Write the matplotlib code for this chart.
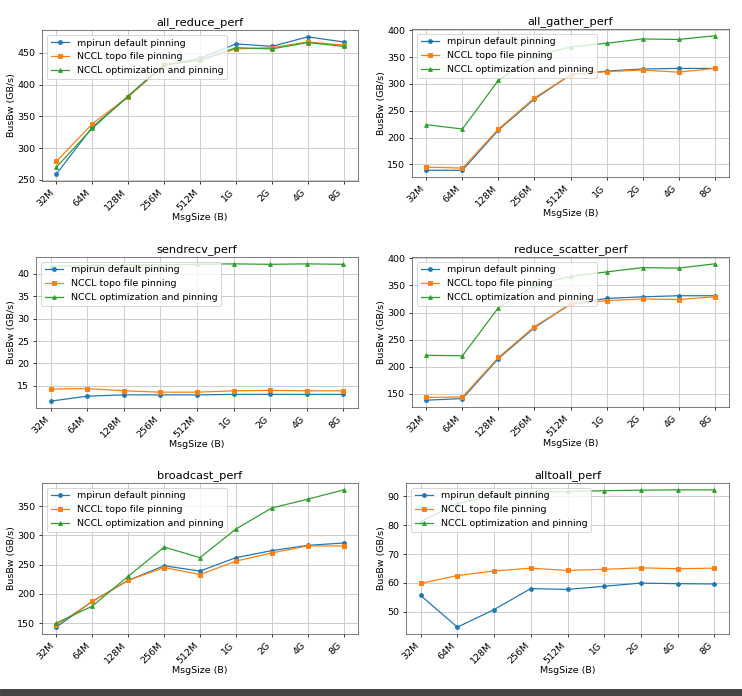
#!/usr/bin/env python3

"""
NCCL busbw comparison: six collectives, three pinning setups.
"""

import matplotlib
matplotlib.use('Agg')
import matplotlib.pyplot as plt
from matplotlib.patches import Rectangle

msg_sizes = ['32M', '64M', '128M', '256M', '512M', '1G', '2G', '4G', '8G']
series_names = ['mpirun default pinning',
                'NCCL topo file pinning',
                'NCCL optimization and pinning']

# BusBw (GB/s) per test, in order: mpirun, topo file, optimization
all_reduce_mpirun = [259, 333, 381, 430, 441, 464, 460, 475, 467]
all_reduce_topo = [279, 338, 381, 431, 438, 456, 458, 467, 462]
all_reduce_opt = [270, 331, 382, 432, 438, 458, 456, 466, 460]

all_gather_mpirun = [139, 139, 214, 272, 317, 324, 328, 329, 329]
all_gather_topo = [145, 143, 216, 274, 317, 323, 326, 322, 329]
all_gather_opt = [224, 216, 307, 352, 369, 376, 384, 383, 390]

sendrecv_mpirun = [11.6, 12.7, 13.0, 13.0, 13.0, 13.1, 13.1, 13.1, 13.1]
sendrecv_topo = [14.3, 14.4, 13.9, 13.6, 13.6, 13.9, 14.0, 13.9, 13.9]
sendrecv_opt = [41.7, 41.8, 42.0, 42.0, 42.1, 42.2, 42.1, 42.2, 42.1]

reduce_scatter_mpirun = [138, 141, 215, 272, 316, 326, 329, 331, 331]
reduce_scatter_topo = [143, 144, 217, 274, 315, 322, 325, 324, 329]
reduce_scatter_opt = [221, 220, 309, 350, 367, 375, 383, 382, 390]

broadcast_mpirun = [143, 187, 223, 248, 239, 262, 274, 283, 287]
broadcast_topo = [146, 187, 223, 245, 233, 256, 270, 282, 282]
broadcast_opt = [150, 179, 230, 280, 262, 311, 347, 362, 378]

alltoall_mpirun = [55.6, 44.6, 50.7, 58.0, 57.7, 58.8, 59.9, 59.7, 59.6]
alltoall_topo = [59.8, 62.5, 64.1, 65.1, 64.3, 64.7, 65.2, 64.9, 65.1]
alltoall_opt = [81.3, 87.5, 90.5, 91.4, 91.8, 92.0, 92.2, 92.3, 92.3]

tests = [
    ('all_reduce_perf', all_reduce_mpirun, all_reduce_topo, all_reduce_opt),
    ('all_gather_perf', all_gather_mpirun, all_gather_topo, all_gather_opt),
    ('sendrecv_perf', sendrecv_mpirun, sendrecv_topo, sendrecv_opt),
    ('reduce_scatter_perf', reduce_scatter_mpirun, reduce_scatter_topo,
     reduce_scatter_opt),
    ('broadcast_perf', broadcast_mpirun, broadcast_topo, broadcast_opt),
    ('alltoall_perf', alltoall_mpirun, alltoall_topo, alltoall_opt),
]

markers = ['o', 's', '^']
colors = ['#1f77b4', '#ff7f0e', '#2ca02c']

W, H = 742, 696
# each panel was a separate image, so the axes boxes do not line up exactly
# (left, top, right, bottom) in pixels
panel_boxes = [
    (42, 30, 358, 181), (412, 29, 729, 177),
    (36, 257, 358, 408), (412, 257, 729, 407),
    (42, 483, 358, 634), (406, 483, 729, 634),
]


def main():
    fig = plt.figure(figsize=(W / 68, H / 68), dpi=68)

    for box, (title, *values) in zip(panel_boxes, tests):
        l, t, r, b = box
        ax = fig.add_axes([l / W, 1 - b / H, (r - l) / W, (b - t) / H])
        for name, vals, mk, c in zip(series_names, values, markers, colors):
            ax.plot(msg_sizes, vals, marker=mk, markersize=4, color=c,
                    linewidth=1.3, label=name)
        ax.set_title(title, fontsize=12, pad=5)
        ax.set_xlabel('MsgSize (B)', labelpad=1)
        ax.set_ylabel('BusBw (GB/s)', labelpad=1)
        ax.grid(True, color='#cccccc', linewidth=1.0)
        ax.tick_params(axis='x', labelrotation=45)
        for lbl in ax.get_xticklabels():
            lbl.set_ha('right')
        for sp in ax.spines.values():
            sp.set_edgecolor('#555555')
        ax.legend(loc='upper left')

    # dark strip along the bottom edge of the screenshot
    fig.add_artist(Rectangle((0, 0), 1, 7 / H, transform=fig.transFigure,
                             color='#444444', zorder=10))

    fig.savefig('out.png', dpi=68)


if __name__ == "__main__":
    main()
